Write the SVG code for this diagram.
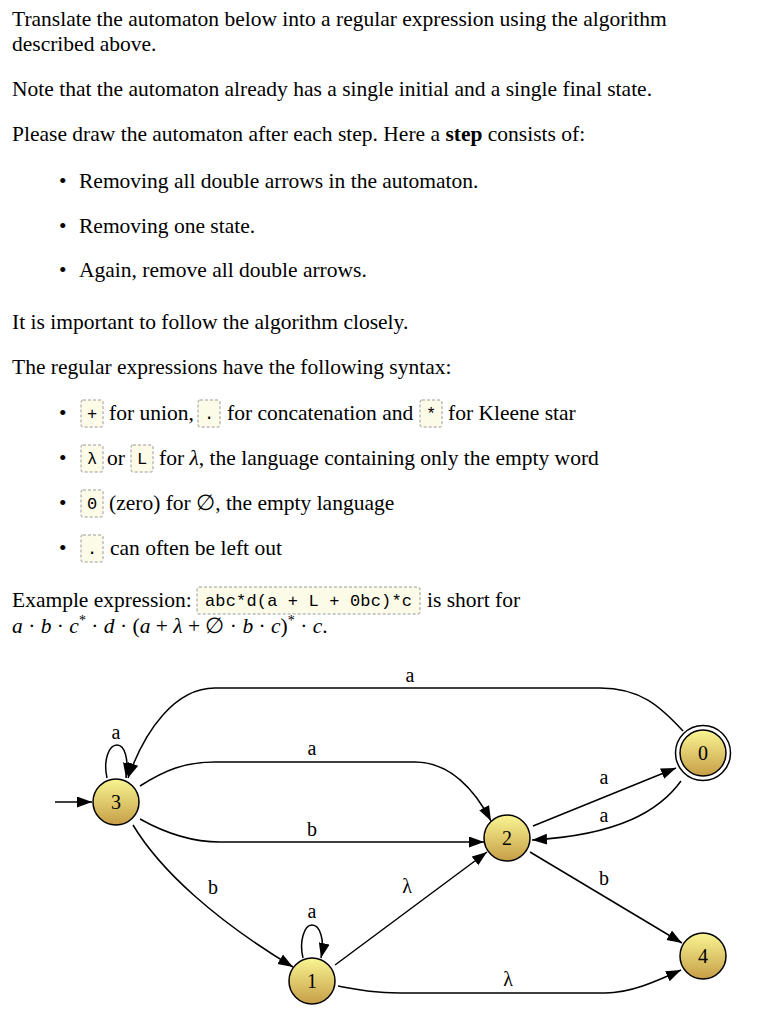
<svg xmlns="http://www.w3.org/2000/svg" width="760" height="1024" viewBox="0 0 760 1024">
<style>
.t{font-family:"Liberation Serif","Times New Roman",serif;font-size:21.5px;fill:#000}
.i{font-style:italic}
.b{font-weight:bold}
.code{fill:#fcfbe8;stroke:#9a9a9a;stroke-width:1;stroke-dasharray:3 2}
.m{font-family:"Liberation Mono","Courier New",monospace;font-size:17px;fill:#000}
.node{fill:url(#g);stroke:#000;stroke-width:1.5}
.ring{fill:none;stroke:#000;stroke-width:1.5}
.nl{font-family:"Liberation Serif","Times New Roman",serif;font-size:20px;text-anchor:middle;fill:#000}
.el{font-family:"Liberation Serif","Times New Roman",serif;font-size:20px;text-anchor:middle;fill:#000}
.e{fill:none;stroke:#000;stroke-width:1.5;marker-end:url(#ah)}
</style>
<defs>
<linearGradient id="g" x1="0" y1="0" x2="0" y2="1">
<stop offset="0" stop-color="#f9f592"/>
<stop offset="1" stop-color="#c69e47"/>
</linearGradient>
<marker id="ah" markerUnits="userSpaceOnUse" markerWidth="16" markerHeight="12" refX="15" refY="5.5" orient="auto">
<path d="M0,0 L15,5.5 L0,11 z" fill="#000"/>
</marker>
</defs>
<rect width="760" height="1024" fill="#fff"/>

<g id="text">
<text class="t" x="12" y="26">Translate the automaton below into a regular expression using the algorithm</text>
<text class="t" x="12" y="51">described above.</text>
<text class="t" x="12" y="96">Note that the automaton already has a single initial and a single final state.</text>
<text class="t" x="12" y="141">Please draw the automaton after each step. Here a <tspan class="b">step</tspan> consists of:</text>
<text class="t" x="59" y="188">•</text><text class="t" x="79" y="188">Removing all double arrows in the automaton.</text>
<text class="t" x="59" y="233">•</text><text class="t" x="79" y="233">Removing one state.</text>
<text class="t" x="59" y="277">•</text><text class="t" x="79" y="277">Again, remove all double arrows.</text>
<text class="t" x="12" y="329">It is important to follow the algorithm closely.</text>
<text class="t" x="12" y="374">The regular expressions have the following syntax:</text>

<text class="t" x="59" y="420">•</text>
<rect class="code" x="81" y="400" width="22" height="27" rx="2"/><text class="m" x="92" y="419" text-anchor="middle">+</text>
<text class="t" x="109" y="420">for union,</text>
<rect class="code" x="198" y="400" width="22" height="27" rx="2"/><text class="m" x="209" y="419" text-anchor="middle">.</text>
<text class="t" x="227" y="420">for concatenation and</text>
<rect class="code" x="420" y="400" width="22" height="27" rx="2"/><text class="m" x="431" y="419" text-anchor="middle">*</text>
<text class="t" x="448" y="420">for Kleene star</text>

<text class="t" x="59" y="465">•</text>
<rect class="code" x="81" y="445" width="22" height="27" rx="2"/><text class="m" x="92" y="464" text-anchor="middle">λ</text>
<text class="t" x="107" y="465">or</text>
<rect class="code" x="131" y="445" width="22" height="27" rx="2"/><text class="m" x="142" y="464" text-anchor="middle">L</text>
<text class="t" x="159" y="465">for <tspan class="i">λ</tspan>, the language containing only the empty word</text>

<text class="t" x="59" y="510">•</text>
<rect class="code" x="81" y="490" width="22" height="27" rx="2"/><text class="m" x="92" y="509" text-anchor="middle">0</text>
<text class="t" x="109" y="510">(zero) for ∅, the empty language</text>

<text class="t" x="59" y="555">•</text>
<rect class="code" x="81" y="535" width="22" height="27" rx="2"/><text class="m" x="92" y="554" text-anchor="middle">.</text>
<text class="t" x="110" y="555">can often be left out</text>

<text class="t" x="12" y="607">Example expression:</text>
<rect class="code" x="197" y="587" width="223" height="27" rx="2"/>
<text class="m" x="205" y="606" textLength="207" lengthAdjust="spacing" xml:space="preserve">abc*d(a + L + 0bc)*c</text>
<text class="t" x="427" y="607">is short for</text>
<text class="t" x="12" y="633" xml:space="preserve"><tspan class="i">a</tspan> · <tspan class="i">b</tspan> · <tspan class="i">c</tspan><tspan font-size="14" dy="-8">*</tspan><tspan dy="8"> · </tspan><tspan class="i">d</tspan> · (<tspan class="i">a</tspan> + <tspan class="i">λ</tspan> + ∅ · <tspan class="i">b</tspan> · <tspan class="i">c</tspan>)<tspan font-size="14" dy="-8">*</tspan><tspan dy="8"> · </tspan><tspan class="i">c</tspan>.</text>
</g>

<g id="connectors">
<path class="e" d="M55,802 L92,802"/>
<path class="e" d="M107,778 C103,760 109,745 117,745 C125,745 129,760 126,778"/>
<path class="e" d="M683,731 C660,706 640,688 600,688 L215,688 C175,688 145,730 128,778"/>
<path class="e" d="M140,786 C165,770 185,762 215,762 L415,762 C450,762 475,790 491,821"/>
<path class="e" d="M140,819 C165,833 190,842 220,842 L484,842"/>
<path class="e" d="M133,825 C160,870 215,920 293,967"/>
<path class="e" d="M303,958 C299,942 304,925 312,925 C320,925 325,940 321,958"/>
<path class="e" d="M335,965 L487,852"/>
<path class="e" d="M533,826 L676,768"/>
<path class="e" d="M681,781 C660,810 620,835 532,840"/>
<path class="e" d="M530,852 L682,943"/>
<path class="e" d="M338,986 C360,990 375,993 400,993 L605,993 C630,993 655,982 681,970"/>
<text class="el" x="116" y="739">a</text>
<text class="el" x="410" y="682">a</text>
<text class="el" x="312" y="755">a</text>
<text class="el" x="312" y="836">b</text>
<text class="el" x="213" y="894">b</text>
<text class="el" x="312" y="918">a</text>
<text class="el" x="407" y="893">λ</text>
<text class="el" x="604" y="784">a</text>
<text class="el" x="604" y="822">a</text>
<text class="el" x="604" y="885">b</text>
<text class="el" x="508" y="986">λ</text>
</g>

<g id="node3"><circle class="node" cx="116" cy="802" r="23"/><text class="nl" x="116" y="809">3</text></g>
<g id="node2"><circle class="node" cx="507" cy="838" r="23"/><text class="nl" x="507" y="845">2</text></g>
<g id="node0"><circle class="ring" cx="703" cy="753" r="27.5"/><circle class="node" cx="703" cy="753" r="23"/><text class="nl" x="703" y="760">0</text></g>
<g id="node1"><circle class="node" cx="312" cy="981" r="23"/><text class="nl" x="312" y="988">1</text></g>
<g id="node4"><circle class="node" cx="703" cy="956" r="23"/><text class="nl" x="703" y="963">4</text></g>
</svg>
